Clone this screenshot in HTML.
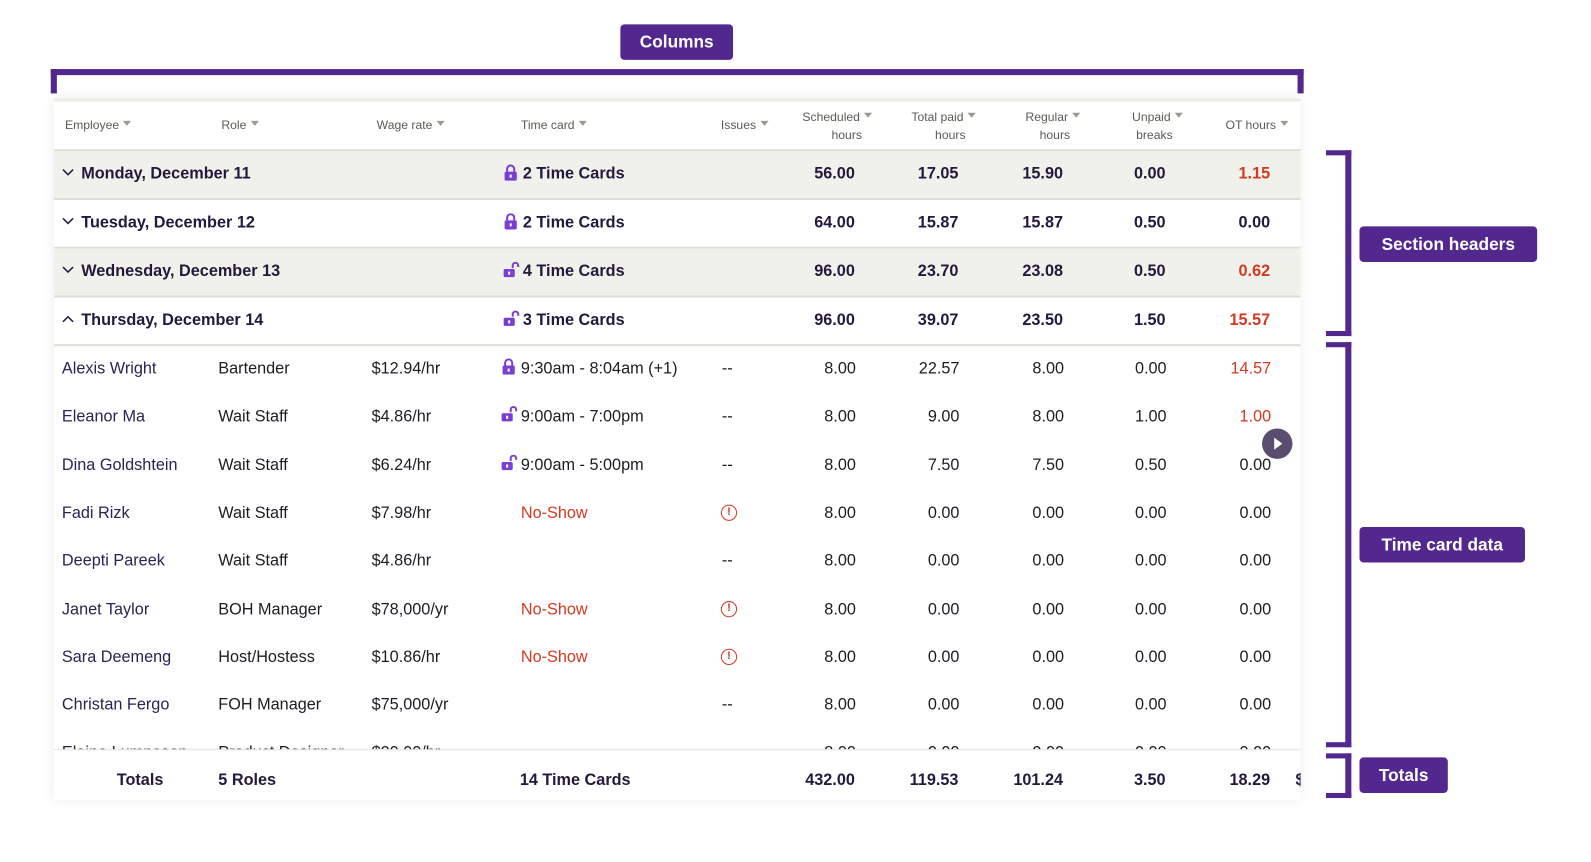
<!DOCTYPE html>
<html><head><meta charset="utf-8"><style>
*{margin:0;padding:0;box-sizing:border-box}
body{width:1591px;height:862px;background:#fff;overflow:hidden;font-family:"Liberation Sans",sans-serif;position:relative}
#w{position:absolute;left:0;top:0;width:1567px;height:849px;transform:scale(1.0153);transform-origin:0 0}
.a{position:absolute;white-space:nowrap}
.bar{position:absolute;background:#52288f}
.lbl{position:absolute;background:#52288f;color:#fff;font-weight:bold;font-size:17px;border-radius:4px;display:flex;align-items:center;justify-content:center}
.tbl{position:absolute;left:53px;top:97px;width:1228px;height:691px;background:#fff;box-shadow:0 0 12px rgba(0,0,0,0.08);overflow:hidden;border-top:3px solid #ecebe4}
.row{position:absolute;left:0;width:1228px;border-bottom:2px solid #deddd4}
.g{background:#f1f1ec}
.h{font-size:12px;color:#5a5a55}
.tri{display:inline-block;width:0;height:0;border-left:4px solid transparent;border-right:4px solid transparent;border-top:5px solid #9b9a90;margin-left:4px;vertical-align:3px}
.sec{font-size:16px;font-weight:bold;color:#22193d}
.d{font-size:16px;color:#1c1c24}
.n{color:#2d2350}
.r{text-align:right}
.red{color:#d13a23}
</style></head><body><div id="w">
<div class="lbl" style="left:611px;top:24px;width:111px;height:35px">Columns</div>
<div class="bar" style="left:50px;top:68px;width:1234px;height:6px"></div>
<div class="bar" style="left:50px;top:68px;width:6px;height:24px"></div>
<div class="bar" style="left:1278px;top:68px;width:6px;height:24px"></div>

<div class="bar" style="left:1306px;top:148px;width:25px;height:5px"></div>
<div class="bar" style="left:1325px;top:148px;width:6px;height:183px"></div>
<div class="bar" style="left:1306px;top:326px;width:25px;height:5px"></div>
<div class="lbl" style="left:1339px;top:223px;width:175px;height:35px">Section headers</div>

<div class="bar" style="left:1306px;top:337px;width:25px;height:5px"></div>
<div class="bar" style="left:1325px;top:337px;width:6px;height:399px"></div>
<div class="bar" style="left:1306px;top:731px;width:25px;height:5px"></div>
<div class="lbl" style="left:1339px;top:519px;width:163px;height:35px">Time card data</div>

<div class="bar" style="left:1306px;top:742px;width:25px;height:5px"></div>
<div class="bar" style="left:1325px;top:742px;width:6px;height:44px"></div>
<div class="bar" style="left:1306px;top:781px;width:25px;height:5px"></div>
<div class="lbl" style="left:1339px;top:746px;width:87px;height:35px">Totals</div>

<div class="tbl">
<div class="row" style="top:0;height:49px"></div>
<div class="a h" style="left:11px;top:16px">Employee<span class="tri"></span></div>
<div class="a h" style="left:165px;top:16px">Role<span class="tri"></span></div>
<div class="a h" style="left:318px;top:16px">Wage rate<span class="tri"></span></div>
<div class="a h" style="left:460px;top:16px">Time card<span class="tri"></span></div>
<div class="a h" style="left:657px;top:16px">Issues<span class="tri"></span></div>
<div class="a h r" style="right:422px;top:6px;line-height:18px">Scheduled<span class="tri"></span><br>hours&nbsp;&nbsp;&nbsp;</div>
<div class="a h r" style="right:320px;top:6px;line-height:18px">Total paid<span class="tri"></span><br>hours&nbsp;&nbsp;&nbsp;</div>
<div class="a h r" style="right:217px;top:6px;line-height:18px">Regular<span class="tri"></span><br>hours&nbsp;&nbsp;&nbsp;</div>
<div class="a h r" style="right:116px;top:6px;line-height:18px">Unpaid<span class="tri"></span><br>breaks&nbsp;&nbsp;&nbsp;</div>
<div class="a h" style="left:1154px;top:16px">OT hours<span class="tri"></span></div>
</div>
</div>
<script>
const T=document.querySelector('.tbl');
function add(h){T.insertAdjacentHTML('beforeend',h)}
const lockC='<svg width="14" height="16" viewBox="0 0 14 16" style="position:absolute;left:0;top:0"><path d="M3.5 7V4.5a3.5 3.5 0 0 1 7 0V7" fill="none" stroke="#7a3fd1" stroke-width="2"/><rect x="1" y="7" width="12" height="9" rx="1.5" fill="#7a3fd1"/><rect x="6" y="10" width="2" height="3" fill="#fff"/></svg>';
const lockO='<svg width="16" height="16" viewBox="0 0 16 16" style="position:absolute;left:0;top:0"><path d="M9 6V3.5a2.7 2.7 0 0 1 5.4 0V5" fill="none" stroke="#7a3fd1" stroke-width="2"/><rect x="0" y="7" width="11" height="8" rx="1.5" fill="#7a3fd1"/><rect x="4.5" y="9.5" width="2" height="3" fill="#fff"/></svg>';
const secs=[["v","Monday, December 11",lockC,"2 Time Cards",["56.00","17.05","15.90","0.00","1.15"],1,1],
["v","Tuesday, December 12",lockC,"2 Time Cards",["64.00","15.87","15.87","0.50","0.00"],0,0],
["v","Wednesday, December 13",lockO,"4 Time Cards",["96.00","23.70","23.08","0.50","0.62"],1,1],
["^","Thursday, December 14",lockO,"3 Time Cards",["96.00","39.07","23.50","1.50","15.57"],0,1]];
const R=[422,320,217,116,13];
secs.forEach((s,i)=>{const top=49+i*48;
add(`<div class="row ${s[5]?'g':''}" style="top:${top}px;height:48px"></div>`);
const y=top+14;
add(`<svg class="a" style="left:8px;top:${y+3}px" width="12" height="8" viewBox="0 0 12 8"><path d="${s[0]=='v'?'M1 1l5 5 5-5':'M1 7l5-5 5 5'}" fill="none" stroke="#22193d" stroke-width="1.5"/></svg>`);
add(`<div class="a sec" style="left:27px;top:${y}px">${s[1]}</div>`);
add(`<div class="a" style="left:443px;top:${y-1}px;width:16px;height:16px">${s[2]}</div>`);
add(`<div class="a sec" style="left:462px;top:${y}px">${s[3]}</div>`);
s[4].forEach((v,k)=>add(`<div class="a sec r ${(k==4&&s[6])?'red':''}" style="right:${R[k]+17}px;top:${y}px;font-weight:bold">${v}</div>`));
});
const data=[["Alexis Wright","Bartender","$12.94/hr",lockC,"9:30am - 8:04am (+1)","--",["8.00","22.57","8.00","0.00","14.57"],1],
["Eleanor Ma","Wait Staff","$4.86/hr",lockO,"9:00am - 7:00pm","--",["8.00","9.00","8.00","1.00","1.00"],1],
["Dina Goldshtein","Wait Staff","$6.24/hr",lockO,"9:00am - 5:00pm","--",["8.00","7.50","7.50","0.50","0.00"],0],
["Fadi Rizk","Wait Staff","$7.98/hr","","No-Show","!",["8.00","0.00","0.00","0.00","0.00"],0],
["Deepti Pareek","Wait Staff","$4.86/hr","","","--",["8.00","0.00","0.00","0.00","0.00"],0],
["Janet Taylor","BOH Manager","$78,000/yr","","No-Show","!",["8.00","0.00","0.00","0.00","0.00"],0],
["Sara Deemeng","Host/Hostess","$10.86/hr","","No-Show","!",["8.00","0.00","0.00","0.00","0.00"],0],
["Christan Fergo","FOH Manager","$75,000/yr","","","--",["8.00","0.00","0.00","0.00","0.00"],0],
["Elaine Lumnesen","Product Designer","$20.00/hr","","","--",["8.00","0.00","0.00","0.00","0.00"],0]];
data.forEach((d,i)=>{const y=255+i*47.3;
add(`<div class="a d n" style="left:8px;top:${y}px">${d[0]}</div>`);
add(`<div class="a d" style="left:162px;top:${y}px">${d[1]}</div>`);
add(`<div class="a d" style="left:313px;top:${y}px">${d[2]}</div>`);
if(d[3])add(`<div class="a" style="left:441px;top:${y-2}px;width:16px;height:16px">${d[3]}</div>`);
add(`<div class="a d ${d[4]=='No-Show'?'red':''}" style="left:460px;top:${y}px">${d[4]}</div>`);
if(d[5]=='!')add(`<div class="a" style="left:657px;top:${y}px;width:16px;height:16px;border:1.5px solid #d13a23;border-radius:50%;color:#d13a23;font-size:11px;text-align:center;line-height:13px;font-weight:bold">!</div>`);
else add(`<div class="a d" style="left:658px;top:${y}px">--</div>`);
d[6].forEach((v,k)=>add(`<div class="a d r ${(k==4&&d[7])?'red':''}" style="right:${R[k]+16}px;top:${y}px">${v}</div>`));
});
add(`<div class="a" style="left:1190px;top:322px;width:30px;height:30px;border-radius:50%;background:#5a4d70"><div style="position:absolute;left:12px;top:9px;border-left:8px solid #fff;border-top:6px solid transparent;border-bottom:6px solid transparent"></div></div>`);
add(`<div class="row" style="top:638px;height:56px;background:#fff;border:none;border-top:1px solid #e6e5de;box-shadow:0 -2px 4px rgba(0,0,0,0.04)"></div>`);
const ty=660;
add(`<div class="a sec" style="left:62px;top:${ty}px">Totals</div>`);
add(`<div class="a sec" style="left:162px;top:${ty}px">5 Roles</div>`);
add(`<div class="a sec" style="left:459px;top:${ty}px">14 Time Cards</div>`);
["432.00","119.53","101.24","3.50","18.29"].forEach((v,k)=>add(`<div class="a sec r" style="right:${R[k]+17}px;top:${ty}px">${v}</div>`));
add(`<div class="a sec" style="left:1223px;top:${ty}px">$</div>`);
</script>
</body></html>
